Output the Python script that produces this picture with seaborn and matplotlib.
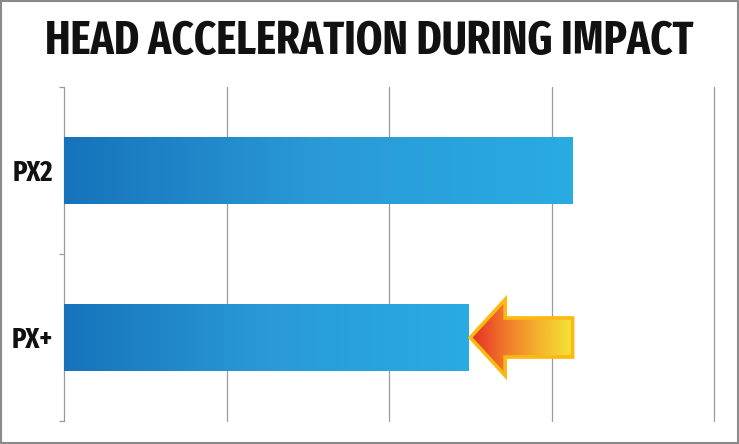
import numpy as np
import pandas as pd
import matplotlib
matplotlib.use("Agg")
import matplotlib.pyplot as plt
from matplotlib import font_manager
from matplotlib.font_manager import FontProperties
from matplotlib.colors import LinearSegmentedColormap
from matplotlib.patches import Polygon, Rectangle
import seaborn as sns

# --- data ---
title = "HEAD ACCELERATION DURING IMPACT"
models = ["PX2", "PX+"]
accel = [3.13, 2.49]          # grid units
grid_max = 4

df = pd.DataFrame({"model": models, "accel": accel})

# --- style ---
sns.set_theme(style="white")
plt.rcParams["font.family"] = ["DejaVu Sans"]


def find_condensed():
    # look for a bold narrow/condensed face, plain bold preferred over black
    best = None
    for f in font_manager.fontManager.ttflist:
        nm = f.name.lower()
        st = str(f.stretch).lower()
        narrow = ("condensed" in nm or "narrow" in nm or "condensed" in st
                  or "narrow" in st or "compressed" in nm)
        try:
            w = int(f.weight)
        except (TypeError, ValueError):
            w = 700 if "bold" in str(f.weight) else 400
        if not narrow or w < 600 or f.style != "normal":
            continue
        score = -abs(w - 700) / 100 + ("extra" in st or "extra" in nm) * 0.5
        if best is None or score > best[0]:
            best = (score, f.fname)
    return best[1] if best else None


cfile = find_condensed()
if cfile:
    head_font = FontProperties(fname=cfile)
else:
    head_font = FontProperties(family="DejaVu Sans", weight="bold")

grey = "#9a9a9a"
blue_cmap = LinearSegmentedColormap.from_list("blu", ["#1673bb", "#2a9ad7", "#29abe2"])
arrow_cmap = LinearSegmentedColormap.from_list("arr", ["#e42a26", "#f0772a", "#f4b32e", "#f4e535"])

fig = plt.figure(figsize=(7.39, 4.44), dpi=100)
ax = fig.add_axes([64 / 739, 23 / 444, 650 / 739, 334 / 444])

sns.barplot(data=df, x="accel", y="model", orient="h", width=0.4,
            color="#1f8fd0", ax=ax)

ax.set_xlim(0, grid_max)
ax.set_ylim(1.5, -0.5)

# gradient fill for the bars
grad = np.linspace(0, 1, 256).reshape(1, -1)
for p in list(ax.patches):
    x0, y0 = p.get_x(), p.get_y()
    w, h = p.get_width(), p.get_height()
    p.set_facecolor("none")
    p.set_edgecolor("none")
    im = ax.imshow(grad, cmap=blue_cmap, aspect="auto",
                   extent=[x0, x0 + w, y0 + h, y0], zorder=3)
    im.set_clip_path(p)

# arrow from PX2 value back to PX+ value
tip = accel[1] + 0.01
tail = accel[0]
yc = 1.0
head_len, head_h, shaft_h = 0.215, 0.228, 0.117
pts = [(tip, yc), (tip + head_len, yc - head_h), (tip + head_len, yc - shaft_h),
       (tail, yc - shaft_h), (tail, yc + shaft_h), (tip + head_len, yc + shaft_h),
       (tip + head_len, yc + head_h)]
arr = Polygon(pts, closed=True, facecolor="none", edgecolor="#fdb913",
              linewidth=2.6, joinstyle="miter", zorder=5)
ax.add_patch(arr)
im = ax.imshow(grad, cmap=arrow_cmap, aspect="auto",
               extent=[tip, tail, yc + head_h, yc - head_h], zorder=4)
im.set_clip_path(arr)
ax.set_xlim(0, grid_max)
ax.set_ylim(1.5, -0.5)

# grid and axes
ax.set_xticks(np.arange(1, grid_max + 1))
ax.tick_params(axis="x", length=0, labelbottom=False)
ax.xaxis.grid(True, color=grey, linewidth=0.9)
for gl in ax.get_xgridlines():
    gl.set_clip_on(False)   # keep the last line at the right edge whole
ax.yaxis.grid(False)
ax.set_axisbelow(True)
for s in ["top", "right", "bottom"]:
    ax.spines[s].set_visible(False)
ax.spines["left"].set_color(grey)
ax.spines["left"].set_linewidth(0.9)

ax.set_yticks([-0.5, 0.5, 1.5])
ax.set_yticklabels([])
ax.tick_params(axis="y", which="major", length=3.6, width=0.9, color=grey, left=True)
ax.set_yticks([0, 1], minor=True)
ax.set_yticklabels(models, minor=True, color="#111111")
ax.tick_params(axis="y", which="minor", length=0, pad=8)
ax.set_xlabel("")
ax.set_ylabel("")

# title
t = fig.text(0.5, 1 - 42 / 444, title, ha="center", va="center",
             fontproperties=head_font, color="#111111")
t.set_fontsize(40)
lbls = ax.get_yticklabels(minor=True)
for lb in lbls:
    lb.set_fontproperties(head_font)
    lb.set_fontsize(18)

# fit title and labels to the widths seen in the original
fig.canvas.draw()
r = fig.canvas.get_renderer()
wpx = t.get_window_extent(r).width
t.set_fontsize(min(40 * 648 / wpx, 48))
wl = max(lb.get_window_extent(r).width for lb in lbls)
for lb in lbls:
    lb.set_fontsize(min(18 * 41 / wl, 22))
for gl in ax.get_xgridlines():
    gl.set_clip_on(False)

# thin grey frame around the picture
fig.patches.append(Rectangle((0.002, 0.003), 0.996, 0.994, transform=fig.transFigure,
                             fill=False, edgecolor="#8a8a8a", linewidth=1.5))

fig.savefig("out.png", dpi=100)
